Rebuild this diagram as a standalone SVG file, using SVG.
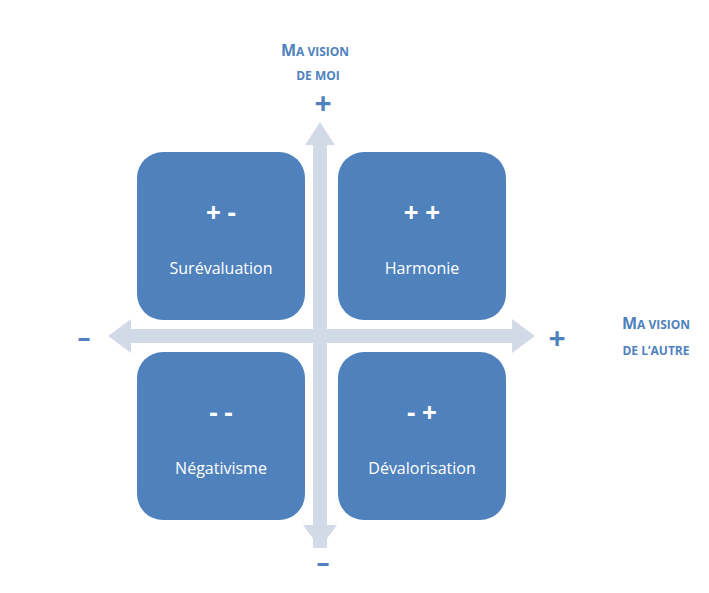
<svg xmlns="http://www.w3.org/2000/svg" width="709" height="593" viewBox="0 0 709 593">
<style>
.box{fill:#4f81bd}
.t{font-family:"Open Sans","Liberation Sans",sans-serif;fill:#fff;text-anchor:middle}
.lbl{font-family:"Open Sans","Liberation Sans",sans-serif;fill:#4f81bd;text-anchor:middle;font-weight:bold}
.ax{fill:#d3dae7}
</style>
<rect width="709" height="593" fill="#fff"/>
<g id="connectors">
<polygon class="ax" points="313,548 313,145 305,145 320,122 335,145 327,145 327,548"/>
<polygon class="ax" points="320,548 303,525 337,525"/>
<polygon class="ax" points="108,336 131,319 131,329 512,329 512,319 535,336 512,353 512,343 131,343 131,353"/>
</g>
<g id="tl"><rect class="box" x="137" y="152" width="168" height="168" rx="26"/>
<text class="t" x="221" y="222" font-size="26" font-weight="bold">+ -</text>
<text class="t" x="221" y="274" font-size="16">Surévaluation</text></g>
<g id="tr"><rect class="box" x="338" y="152" width="168" height="168" rx="26"/>
<text class="t" x="422" y="222" font-size="26" font-weight="bold">+ +</text>
<text class="t" x="422" y="274" font-size="16">Harmonie</text></g>
<g id="bl"><rect class="box" x="137" y="352" width="168" height="168" rx="26"/>
<text class="t" x="221" y="422" font-size="26" font-weight="bold">- -</text>
<text class="t" x="221" y="474" font-size="16">Négativisme</text></g>
<g id="br"><rect class="box" x="338" y="352" width="168" height="168" rx="26"/>
<text class="t" x="422" y="422" font-size="26" font-weight="bold">- +</text>
<text class="t" x="422" y="474" font-size="16">Dévalorisation</text></g>
<g id="labels">
<text class="lbl" x="315" y="56" font-size="16">M<tspan font-size="12">A VISION</tspan></text>
<text class="lbl" x="318" y="80" font-size="12">DE MOI</text>
<text class="lbl" x="323" y="114" font-size="30" font-weight="normal">+</text>
<text class="lbl" x="656" y="329" font-size="16">M<tspan font-size="12">A VISION</tspan></text>
<text class="lbl" x="656" y="355" font-size="12">DE L’AUTRE</text>
<text class="lbl" x="557" y="349" font-size="30" font-weight="normal">+</text>
<text class="lbl" x="84" y="347" font-size="26" font-weight="normal">–</text>
<text class="lbl" x="323" y="572" font-size="26" font-weight="normal">–</text>
</g>
</svg>
